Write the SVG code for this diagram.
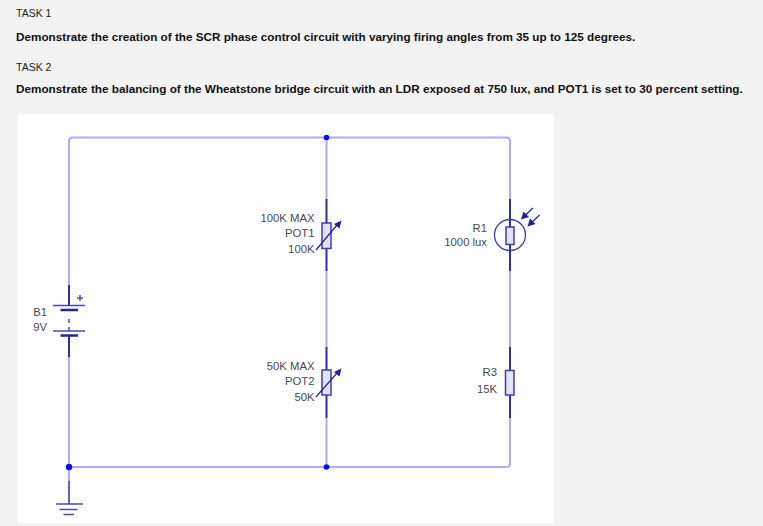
<svg xmlns="http://www.w3.org/2000/svg" width="763" height="526" viewBox="0 0 763 526">
<style>
text{font-family:"Liberation Sans",Arial,sans-serif}
.h{font-size:10.500px;fill:#222}
.b{font-size:11.730px;font-weight:bold;fill:#111}
.l{font-size:11.300px;fill:#4a4a55;text-anchor:end}
.w{fill:none;stroke:#aaaaff;stroke-width:2}
.d{fill:none;stroke:#3030a0;stroke-width:2}
.t{fill:none;stroke:#4a4aa8;stroke-width:1.5}
.r{fill:#e2e2fb;stroke:#3c3cb0;stroke-width:1.500}
.a{fill:none;stroke:#20209a;stroke-width:1.200}
.n{fill:#0a0af0}
.ah{fill:#20209a}
</style>
<rect width="763" height="526" fill="#f3f3f3"/>
<rect x="18" y="114" width="536" height="409" fill="#fff"/>
<g id="task-text">
<text class="h" x="16" y="17">TASK 1</text>
<text class="b" x="16" y="40.500">Demonstrate the creation of the SCR phase control circuit with varying firing angles from 35 up to 125 degrees.</text>
<text class="h" x="16" y="71">TASK 2</text>
<text class="b" x="16" y="93">Demonstrate the balancing of the Wheatstone bridge circuit with an LDR exposed at 750 lux, and POT1 is set to 30 percent setting.</text>
</g>
<g id="connectors">
<path class="w" d="M69 285V141Q69 137.500 72.500 137.500H506.500Q510 137.500 510 141V199"/>
<path class="w" d="M326.500 137.500V199M326.500 271V347M326.500 418V467"/>
<path class="w" d="M510 271V347M510 418V463.500Q510 467 506.500 467H69"/>
<path class="w" d="M69 357V481"/>
</g>
<g id="B1">
<path class="d" d="M69 285V305M69 335V357"/>
<path class="t" d="M53 305.500H85M53 331H85"/>
<path d="M60.500 310H78M60.500 335.500H78" fill="none" stroke="#26268f" stroke-width="2.500"/>
<path class="t" d="M69 319V323M69 327V331"/>
<path class="t" d="M77 298H83M80 295V301"/>
<text class="l" x="47" y="316">B1</text>
<text class="l" x="47" y="331">9V</text>
</g>
<g id="POT1">
<path class="d" d="M326.500 199V223M326.500 248V271"/>
<rect class="r" x="322" y="223" width="9" height="25.500"/>
<path class="a" d="M316 250L337 225"/>
<path class="ah" d="M341.500 220.500L339.500 228.500L334 224Z"/>
<text class="l" x="314.500" y="222">100K MAX</text>
<text class="l" x="314.500" y="237">POT1</text>
<text class="l" x="314.500" y="253">100K</text>
</g>
<g id="POT2">
<path class="d" d="M326.500 347V370M326.500 395V418"/>
<rect class="r" x="322" y="370" width="9" height="25"/>
<path class="a" d="M316 397L337 373"/>
<path class="ah" d="M341.500 368.500L339.500 376.500L334 372Z"/>
<text class="l" x="314.500" y="370">50K MAX</text>
<text class="l" x="314.500" y="385">POT2</text>
<text class="l" x="314.500" y="401">50K</text>
</g>
<g id="R1">
<path class="d" d="M510 199V227M510 244V271"/>
<circle cx="510" cy="235" r="15.500" fill="none" stroke="#3c3cb0" stroke-width="1.300"/>
<rect class="r" x="506" y="227" width="8" height="17.500"/>
<path class="a" d="M533 208L525 215.500M539.500 215L531.500 222.500"/>
<path class="ah" d="M521 219.500L523.500 211.500L529 217ZM527.500 226.500L530 218.500L535.500 224Z"/>
<text class="l" x="487" y="232">R1</text>
<text class="l" x="487" y="246">1000 lux</text>
</g>
<g id="R3">
<path class="d" d="M510 347V370M510 395V418"/>
<rect class="r" x="505.500" y="370.500" width="8.500" height="24.500"/>
<text class="l" x="497" y="376">R3</text>
<text class="l" x="497" y="393">15K</text>
</g>
<g id="GND">
<path class="d" style="stroke:#6464ac" d="M69 481V504"/>
<path class="t" d="M56 504H83M59.500 509.500H77.500M63.500 514.500H74"/>
</g>
<g id="junctions">
<circle class="n" cx="326.500" cy="137.500" r="2.800"/>
<circle class="n" cx="69" cy="467" r="3.200"/>
<circle class="n" cx="326.500" cy="467" r="2.800"/>
</g>
</svg>
